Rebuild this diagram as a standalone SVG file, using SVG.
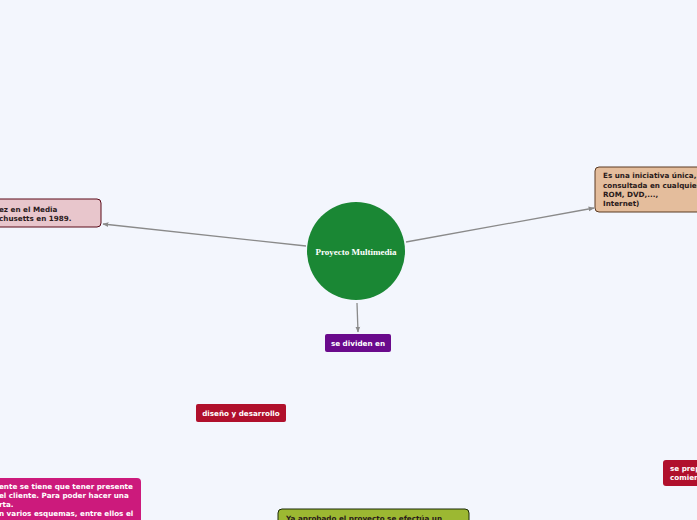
<svg xmlns="http://www.w3.org/2000/svg" width="697" height="520" viewBox="0 0 697 520">
<style>
.t{font-family:"DejaVu Sans",Verdana,sans-serif;font-weight:bold;font-size:7.2px}
.w{fill:#ffffff}
.k{fill:#2a1a1a}
.c{stroke:#8a8a8a;stroke-width:1.3;fill:none;marker-end:url(#a)}
</style>
<defs>
<marker id="a" viewBox="0 0 10 10" refX="9" refY="5" markerWidth="6" markerHeight="6" orient="auto" markerUnits="userSpaceOnUse">
<path d="M0,1 L10,5 L0,9 Z" fill="#8a8a8a"/>
</marker>
</defs>
<rect width="697" height="520" fill="#f3f6fd"/>
<g id="connectors">
<line class="c" x1="306" y1="246" x2="103" y2="224"/>
<line class="c" x1="406" y1="242" x2="594" y2="208"/>
<line class="c" x1="357" y1="303" x2="358" y2="332"/>
</g>
<g id="center">
<circle cx="356" cy="251" r="49" fill="#1a8734"/>
<text x="356" y="255" text-anchor="middle" font-family="Liberation Serif,serif" font-weight="bold" font-size="9" fill="#ffffff">Proyecto Multimedia</text>
</g>
<g id="left">
<rect x="-20" y="199" width="121" height="28" rx="4" fill="#e8c6cc" stroke="#5a0a18" stroke-width="1"/>
<text class="t k" x="-1" y="212">ez en el Media</text>
<text class="t k" x="-1" y="221">chusetts en 1989.</text>
</g>
<g id="right">
<rect x="595" y="167" width="130" height="45" rx="4" fill="#e4bd9c" stroke="#5a3a22" stroke-width="1"/>
<text class="t k" x="603" y="178">Es una iniciativa única, d</text>
<text class="t k" x="603" y="188">consultada en cualquier</text>
<text class="t k" x="603" y="197">ROM, DVD,...,</text>
<text class="t k" x="603" y="206">Internet)</text>
</g>
<g id="divide">
<rect x="325" y="334" width="66" height="18" rx="2" fill="#6a0a8c"/>
<text class="t w" x="358" y="346" text-anchor="middle">se dividen en</text>
</g>
<g id="diseno">
<rect x="196" y="404" width="90" height="18" rx="2" fill="#b0102c"/>
<text class="t w" x="241" y="416" text-anchor="middle">diseño y desarrollo</text>
</g>
<g id="bottomleft">
<rect x="-20" y="478" width="161" height="60" rx="4" fill="#cc1a7c"/>
<text class="t w" x="-1" y="489">ente se tiene que tener presente</text>
<text class="t w" x="-1" y="498">el cliente. Para poder hacer una</text>
<text class="t w" x="-1" y="507">rta.</text>
<text class="t w" x="-1" y="516">n varios esquemas, entre ellos el</text>
</g>
<g id="bottomcenter">
<rect x="278" y="509" width="191" height="30" rx="4" fill="#9cb832" stroke="#1a2a08" stroke-width="1"/>
<text class="t k" x="286" y="521">Ya aprobado el proyecto se efectúa un</text>
</g>
<g id="rightbottom">
<rect x="663" y="460" width="60" height="26" rx="3" fill="#b0102c"/>
<text class="t w" x="670" y="471">se prep</text>
<text class="t w" x="670" y="480">comien</text>
</g>
</svg>
